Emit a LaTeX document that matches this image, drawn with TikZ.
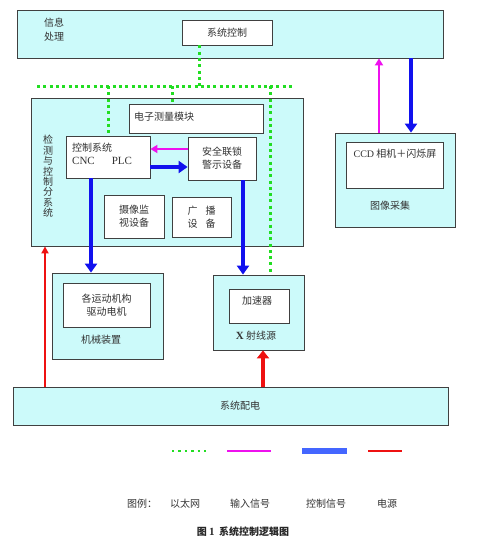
\documentclass[tikz,border=0pt]{standalone}
\usepackage{fontspec}
\newfontfamily\cjk{Noto Sans CJK SC}
\newfontfamily\lat{Liberation Serif}
\usetikzlibrary{arrows.meta}
\definecolor{boxfill}{HTML}{CCFAFA}
\definecolor{txt}{HTML}{333333}
\definecolor{eth}{HTML}{22DD22}
\definecolor{inp}{HTML}{EE11EE}
\definecolor{ctl}{HTML}{1111EE}
\definecolor{ctllg}{HTML}{4466FF}
\definecolor{pwr}{HTML}{EE1111}
\tikzset{
  cyanbox/.style={draw=black!75, line width=0.8pt, fill=boxfill, inner sep=0pt, font=\cjk\fontsize{10}{12}\selectfont, text=txt, align=center},
  whitebox/.style={draw=black!75, line width=0.8pt, fill=white, inner sep=0pt, font=\cjk\fontsize{10}{13}\selectfont, text=txt, align=center},
  lbl/.style={inner sep=0pt, font=\cjk\fontsize{10}{13}\selectfont, text=txt, align=center},
  ethline/.style={draw=eth, line width=3pt, dash pattern=on 3pt off 3.3pt},
  inpline/.style={draw=inp, line width=2pt},
  inparrow/.style={inpline, -{Triangle[width=8pt,length=7pt]}},
  ctlline/.style={draw=ctl, line width=4.5pt},
  ctlarrow/.style={ctlline, -{Triangle[width=12pt,length=9pt]}},
  pwrline/.style={draw=pwr, line width=2pt},
  pwrarrow/.style={pwrline, -{Triangle[width=7pt,length=7pt]}},
  pwrthick/.style={draw=pwr, line width=4.5pt, -{Triangle[width=12pt,length=8pt]}},
}
\begin{document}
\begin{tikzpicture}[x=1pt,y=-1pt]
\useasboundingbox (0,0) rectangle (487,546);
% boxes
\node[cyanbox, minimum width=426pt, minimum height=48pt] (top) at (230,34) {};
\node[whitebox, minimum width=90pt, minimum height=25pt] (sysctl) at (227,32.5) {系统控制};
\node[lbl, font=\cjk\fontsize{10}{14}\selectfont] (info) at (54,30) {信息\\处理};

\node[cyanbox, minimum width=272pt, minimum height=148pt] (sub) at (167,172) {};
\node[lbl, font=\cjk\fontsize{10}{10.4}\selectfont] (subl) at (48,176.5) {检\\测\\与\\控\\制\\分\\系\\统};
\node[whitebox, minimum width=134pt, minimum height=29pt] (meas) at (196,118.5) {};
\node[lbl, anchor=west] (measl) at (134,117) {电子测量模块};
\node[whitebox, minimum width=84pt, minimum height=42pt] (ctrl) at (108,157) {};
\node[lbl, anchor=north west, align=left] (ctrll) at (72,143) {控制系统\\{\lat\fontsize{11}{13}\selectfont CNC\hspace{17pt}PLC}};
\node[whitebox, minimum width=68pt, minimum height=43pt] (safe) at (222,158.5) {安全联锁\\警示设备};
\node[whitebox, minimum width=60pt, minimum height=43pt] (cam) at (134,216.5) {摄像监\\视设备};
\node[whitebox, minimum width=59pt, minimum height=40pt] (bcast) at (201.5,217) {广\hspace{8pt}播\\设\hspace{8pt}备};

\node[cyanbox, minimum width=111pt, minimum height=86pt] (mech) at (107.5,316) {};
\node[whitebox, minimum width=87pt, minimum height=44pt] (motor) at (106.5,305) {各运动机构\\驱动电机};
\node[lbl] (mechl) at (101,340) {机械装置};

\node[cyanbox, minimum width=91pt, minimum height=75pt] (xray) at (258.5,312.5) {};
\node[whitebox, minimum width=60pt, minimum height=34pt] (acc) at (259,306) {};
\node[lbl] (accl) at (257,301) {加速器};
\node[lbl] (xrayl) at (256,336) {{\lat\bfseries\fontsize{11}{13}\selectfont X} 射线源};

\node[cyanbox, minimum width=120pt, minimum height=94pt] (img) at (395,180) {};
\node[whitebox, minimum width=97pt, minimum height=46pt] (ccd) at (394.5,165) {};
\node[lbl] (ccdl) at (395,154) {{\lat CCD} 相机＋闪烁屏};
\node[lbl] (imgl) at (390,206) {图像采集};

\node[cyanbox, minimum width=435pt, minimum height=38pt] (power) at (230.5,406) {};
\node[lbl] (powerl) at (240,406) {系统配电};

% ethernet
\coordinate (g0) at (199,86);
\coordinate (gL) at (37,86);
\coordinate (gR) at (292,86);
\coordinate (gm) at (172,86);
\coordinate (gx) at (270,86);
\draw[ethline] (sysctl.south -| g0) -- (g0);
\draw[ethline] (gL) -- (gR);
\draw[ethline] (ctrl.north |- gL) -- (ctrl.north);
\draw[ethline] (gm) -- (gm |- meas.north);
\draw[ethline] (gx) -- (gx |- xray.north);

% signals inside subsystem
\coordinate (ym) at (0,149);
\coordinate (yb) at (0,167);
\draw[inparrow] (safe.west |- ym) -- (ctrl.east |- ym);
\draw[ctlarrow] (ctrl.east |- yb) -- (safe.west |- yb);
\coordinate (bx1) at (91,0);
\coordinate (bx2) at (243,0);
\draw[ctlarrow] (bx1 |- ctrl.south) -- (bx1 |- mech.north);
\draw[ctlarrow] (bx2 |- safe.south) -- (bx2 |- xray.north);

% power
\coordinate (rx1) at (45,0);
\coordinate (rx2) at (263,0);
\draw[pwrarrow] (rx1 |- power.north) -- (rx1 |- sub.south);
\draw[pwrthick] (rx2 |- power.north) -- (rx2 |- xray.south);

% image acquisition
\coordinate (mx) at (379,0);
\coordinate (cx) at (411,0);
\draw[inparrow] (mx |- img.north) -- (mx |- top.south);
\draw[ctlarrow] (cx |- top.south) -- (cx |- img.north);

% legend
\coordinate (l1a) at (172,451); \coordinate (l1b) at (207,451);
\coordinate (l2a) at (227,451); \coordinate (l2b) at (271,451);
\coordinate (l3a) at (302,451); \coordinate (l3b) at (347,451);
\coordinate (l4a) at (368,451); \coordinate (l4b) at (402,451);
\draw[ethline, line width=2.4pt, dash pattern=on 2.4pt off 4pt] (l1a) -- (l1b);
\draw[inpline] (l2a) -- (l2b);
\draw[draw=ctllg, line width=5.5pt] (l3a) -- (l3b);
\draw[pwrline, line width=2.5pt] (l4a) -- (l4b);
\node[lbl] (lg0) at (142,504) {图例：};
\node[lbl] (lg1) at (185,504) {以太网};
\node[lbl] (lg2) at (250,504) {输入信号};
\node[lbl] (lg3) at (326,504) {控制信号};
\node[lbl] (lg4) at (387,504) {电源};
\node[lbl, font=\cjk\bfseries\fontsize{10}{12}\selectfont, text=black!85] (cap) at (243,532) {图 {\lat\bfseries\fontsize{11}{12}\selectfont 1} \ 系统控制逻辑图};
\end{tikzpicture}
\end{document}
